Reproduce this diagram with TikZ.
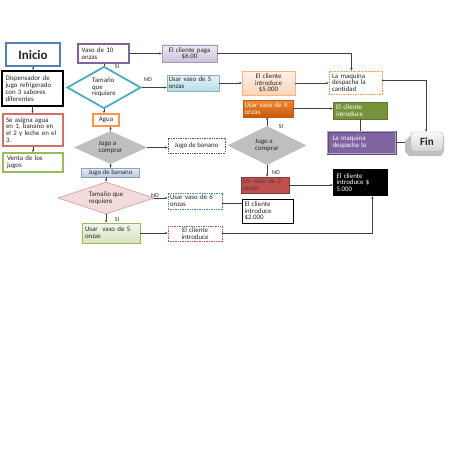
\documentclass[tikz,border=0pt]{standalone}
\usepackage{fontspec}
\setmainfont{Carlito}
\usetikzlibrary{shapes.geometric,arrows.meta,calc}
\definecolor{cblue}{HTML}{4F81BD}
\definecolor{ccyan}{HTML}{4BACC6}
\definecolor{cpurple}{HTML}{8064A2}
\definecolor{cpurpled}{HTML}{5F497A}
\definecolor{cpurplel}{HTML}{B2A1C7}
\definecolor{corange}{HTML}{F79646}
\definecolor{cred}{HTML}{C0504D}
\definecolor{credl}{HTML}{D46F6C}
\definecolor{cgreen}{HTML}{9BBB59}
\definecolor{colive}{HTML}{77933C}
\definecolor{cgray}{HTML}{BFBFBF}
\definecolor{cpink}{HTML}{F2DCDB}
\definecolor{cpinkb}{HTML}{D99694}
\definecolor{lavA}{HTML}{EEEAF4}
\definecolor{lavB}{HTML}{CCC1DD}
\definecolor{lbA}{HTML}{E6F3F8}
\definecolor{lbB}{HTML}{B7DDE8}
\definecolor{peA}{HTML}{FEF2EA}
\definecolor{peB}{HTML}{FBD4B4}
\definecolor{bbA}{HTML}{E6EDF6}
\definecolor{bbB}{HTML}{B8CCE4}
\definecolor{grA}{HTML}{F2F6EA}
\definecolor{grB}{HTML}{D7E4BD}
\definecolor{orA}{HTML}{EE8A3A}
\definecolor{orB}{HTML}{C65A09}
\definecolor{txtc}{HTML}{262626}
\definecolor{linec}{HTML}{404040}
\begin{document}
\begin{tikzpicture}[x=1pt,y=-1pt,
  txt/.style={font=\fontsize{6.9}{6.8}\selectfont, text=txtc},
  bx/.style={rectangle, inner sep=0pt, txt, align=left},
  dm/.style={diamond, shape aspect=1.8, inner sep=0pt, txt, align=left},
  ar/.style={draw=linec, line width=0.5pt, -{Stealth[length=2.6pt,width=2.2pt]}},
  ln/.style={draw=linec, line width=0.5pt},
  lab/.style={font=\fontsize{6}{6}\selectfont, text=txtc, inner sep=0.5pt},
  dsh/.style={dash pattern=on 1.4pt off 1pt}
]
\fill[white] (0,0) rectangle (452,452);
\useasboundingbox (0,0) rectangle (452,452);

% left column
\node[bx, draw=cblue, line width=2pt, minimum width=54pt, minimum height=23pt, font=\bfseries\fontsize{13}{14}\selectfont, align=center] (inicio) at (33,54.5) {Inicio};
\node[bx, draw=black, line width=2.2pt, minimum width=61pt, minimum height=35pt, text width=54pt] (disp) at (32.5,88.5) {Dispensador de\\ jugo refrigerado\\ con 3 sabores\\ diferentes};
\node[bx, draw=credl, line width=1.8pt, minimum width=60pt, minimum height=32pt, text width=54pt] (asigna) at (33,130) {Se asigna agua\\ en 1, banano en\\ el 2 y leche en el\\ 3.};
\node[bx, draw=cgreen, line width=1.8pt, minimum width=60pt, minimum height=19pt, text width=52pt] (venta) at (33,162.5) {Venta de los\\ jugos};

% top row
\node[bx, draw=cpurple, line width=1.8pt, minimum width=51pt, minimum height=19pt, text width=44pt] (vaso10) at (103.5,53.5) {Vaso de 10\\ onzas};
\node[bx, top color=lavA, bottom color=lavB, draw=lavB!80!black, line width=0.4pt, minimum width=55pt, minimum height=17pt, text width=52pt, align=center] (paga) at (189.5,53.5) {El cliente paga\\ \$6.00};
\node[dm, draw=ccyan, fill=white, line width=1.8pt, minimum width=74pt, minimum height=42pt, font=\fontsize{6.9}{6.4}\selectfont] (d1) at (104,87.5) {Tamaño\\ que\\ requiere};
\node[bx, top color=lbA, bottom color=lbB, draw=lbB!80!black, line width=0.4pt, minimum width=52pt, minimum height=16pt, text width=49pt] (vaso5a) at (193,83) {Usar vaso de 5\\ onzas};
\node[bx, top color=peA, bottom color=peB, draw=corange!70, line width=0.4pt, minimum width=53pt, minimum height=24pt, text width=50pt, align=center] (intro5000) at (268.5,83) {El cliente\\ introduce\\ \$5.000};
\node[bx, draw=corange, dsh, line width=0.7pt, minimum width=53pt, minimum height=23pt, text width=47pt] (maq) at (355.5,82.5) {La maquina\\ despacha la\\ cantidad};

% middle left
\node[bx, draw=corange, fill=white, line width=1.8pt, minimum width=26pt, minimum height=12pt, align=center] (agua) at (106,120) {Agua};
\node[dm, fill=cgray, minimum width=73pt, minimum height=33pt] (gd1) at (110.5,147.5) {Jugo a\\ comprar};
\node[bx, draw=gray!70!black, dsh, line width=0.7pt, minimum width=57pt, minimum height=15pt, align=center] (banano1) at (196.5,145.5) {Jugo de banano};
\node[bx, top color=bbA, bottom color=bbB, draw=bbB!80!black, line width=0.4pt, minimum width=58pt, minimum height=9pt, align=center] (banano2) at (110.5,172.5) {Jugo de banano};
\node[dm, fill=cpink, draw=cpinkb, line width=0.6pt, minimum width=96pt, minimum height=32pt] (d2) at (106,198) {Tamaño que\\ requiere};
\node[bx, draw=cblue, dsh, line width=0.7pt, minimum width=54pt, minimum height=16pt, text width=50pt] (vaso6) at (195,201) {Usar vaso de 6\\ onzas};
\node[bx, top color=grA, bottom color=grB, draw=cgreen, line width=0.7pt, minimum width=58pt, minimum height=20pt, text width=52pt] (vaso5b) at (111,233) {Usar~ vaso de 5\\ onzas};
\node[bx, draw=cred, dsh, line width=0.7pt, minimum width=54pt, minimum height=15pt, text width=50pt, align=center] (introd) at (195,233.5) {El cliente\\ introduce};
\node[bx, draw=black, fill=white, line width=0.5pt, minimum width=51pt, minimum height=24pt, text width=46pt] (intro2000) at (267.5,211) {El cliente\\ introduce\\ \$2.000};

% middle right
\node[dm, fill=cgray, minimum width=79pt, minimum height=39pt] (gd2) at (267,145.5) {Jugo a\\ comprar};
\node[bx, top color=orA, bottom color=orB, draw=orB, line width=0.4pt, minimum width=50pt, minimum height=17pt, text width=47pt, text=white!92!orange] (vaso4) at (268,108.5) {Usar vaso de 4\\ onzas};
\node[bx, fill=cred, draw=cred!70!black, line width=0.5pt, minimum width=48pt, minimum height=16pt, text width=44pt, text=black!75] (vaso2) at (265,185) {Un vaso de 2\\ onzas};
\node[bx, fill=black, minimum width=55pt, minimum height=27pt, text width=48pt, text=white] (blackbox) at (360.5,182.5) {El cliente\\ introduce \$\\ 5.000};
\node[bx, fill=colive, draw=colive!80!black, line width=0.4pt, minimum width=54pt, minimum height=17pt, text width=48pt, text=white!90] (greenintro) at (360,110.5) {El cliente\\ introduce};
\node[bx, fill=cpurple, draw=cpurpled, double=cpurplel, double distance=0.8pt, line width=0.6pt, minimum width=68pt, minimum height=22pt, text width=58pt, text=white!92] (maqp) at (361.5,142.5) {La maquina\\ despacha la};

% Fin key
\fill[gray!50] (412,134) -- (405,141) -- (405,152) -- (409,156) -- (441,156) -- (444,151) -- (444,136) -- cycle;
\node[bx, rounded corners=3pt, top color=gray!6, bottom color=gray!32, draw=gray!55, line width=0.4pt, minimum width=32pt, minimum height=19pt, font=\bfseries\fontsize{11}{12}\selectfont, align=center] (fin) at (427,141.5) {Fin};
\coordinate (finL) at (405,142.5);

% connectors
\draw[ar] (inicio.south) -- (inicio.south |- disp.north);
\draw[ar] (disp.south) -- (disp.south |- asigna.north);
\draw[ar] (asigna.south) -- (asigna.south |- venta.north);
\draw[ar] (vaso10.east) -- (vaso10.east -| paga.west);
\draw[ar] (paga.east) -| ($(maq.north)+(-4,0)$);
\draw[ln] (vaso10.south -| d1.north) -- (d1.north);
\draw[ar] (d1.east) -- (d1.east -| vaso5a.west);
\draw[ar] (vaso5a.east) -- (vaso5a.east -| intro5000.west);
\draw[ar] (intro5000.east) -- (intro5000.east -| maq.west);
\draw[ar] ($(maq.east)+(0,-2)$) -| ($(fin.north)+(-1,0)$);
\draw[ar] (d1.south) -- (d1.south |- agua.north);
\draw[ar] (agua.south -| gd1.north) -- (gd1.north);
\draw[ar] (gd1.east) -- (gd1.east -| banano1.west);
\draw[ar] (gd1.south) -- (gd1.south |- banano2.north);
\draw[ar] (banano2.south -| d2.north) -- (d2.north);
\draw[ar] (d2.east) -- (d2.east -| vaso6.west);
\draw[ar] (d2.south) -- (d2.south |- vaso5b.north);
\draw[ln] ($(vaso6.east)+(0,2)$) -- ($(vaso6.east -| intro2000.west)+(0,2)$);
\draw[ar] (vaso5b.east) -- (vaso5b.east -| introd.west);
\draw[ar] (introd.east) -| ($(blackbox.south)+(12,0)$);
\draw[ar] (gd2.north) -- (gd2.north |- vaso4.south);
\draw[ar] (gd2.south) -- (gd2.south |- vaso2.north);
\draw[ar] (vaso2.east) -- (vaso2.east -| blackbox.west);
\draw[ar] (vaso4.east) -- (vaso4.east -| greenintro.west);
\draw[ln] (greenintro.south) -- (greenintro.south |- maqp.north);
\draw[ln] (maqp.east) -- (finL);

% labels
\node[lab] (si1) at (117,67) {SI};
\node[lab] (no1) at (148,79.5) {NO};
\node[lab] (si2) at (281,127) {SI};
\node[lab] (no2) at (276,173) {NO};
\node[lab] (no3) at (155,195.5) {NO};
\node[lab] (si3) at (117,220) {SI};
\end{tikzpicture}
\end{document}
